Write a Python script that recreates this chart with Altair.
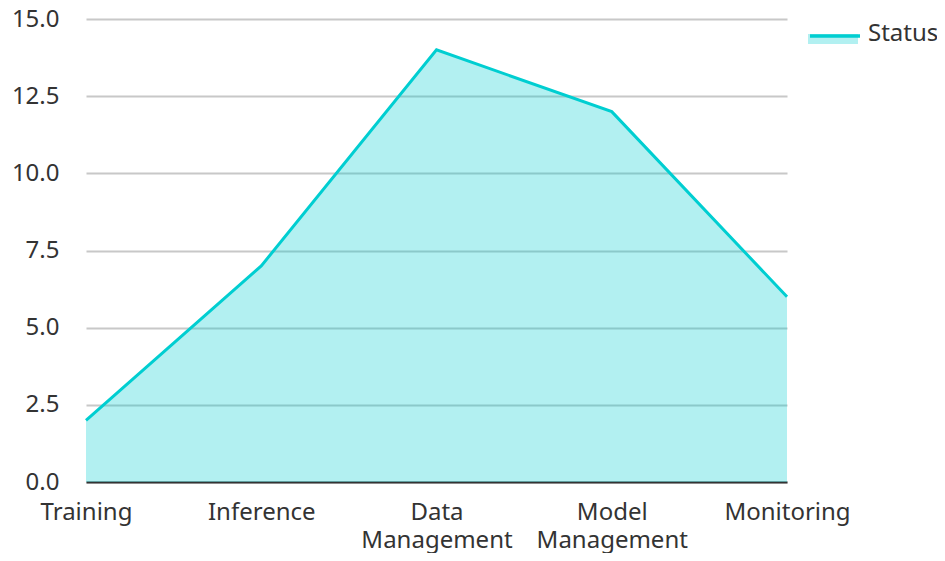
import altair as alt
import pandas as pd

categories = ["Training", "Inference", "Data Management", "Model Management", "Monitoring"]
values = [2, 7, 14, 12, 6]
series = ["Status"] * len(categories)

df = pd.DataFrame({"stage": categories, "value": values, "series": series})

TEAL = "#00CED1"
FONT = "Noto Sans"

x_enc = alt.X(
    "stage:N",
    sort=categories,
    scale=alt.Scale(type="point", padding=0),
    axis=alt.Axis(
        title=None,
        labelAngle=0,
        labelExpr="split(datum.label, ' ')",
        labelLineHeight=28,
        labelPadding=18,
        ticks=False,
        tickSize=0,
        grid=False,
        domainColor="#333333",
        domainWidth=2,
        labelFontSize=24,
        labelFont=FONT,
        labelColor="#333333",
    ),
)
y_enc = alt.Y(
    "value:Q",
    scale=alt.Scale(domain=[0, 15], nice=False),
    axis=alt.Axis(
        title=None,
        values=[0, 2.5, 5, 7.5, 10, 12.5, 15],
        format=".1f",
        ticks=False,
        tickSize=0,
        domain=False,
        labelPadding=27,
        gridColor="#c8c8c8",
        gridWidth=2,
        labelFontSize=24,
        labelFont=FONT,
        labelColor="#333333",
    ),
)

area = alt.Chart(df).mark_area(opacity=0.3).encode(
    x=x_enc,
    y=y_enc,
    fill=alt.Fill(
        "series:N",
        scale=alt.Scale(range=[TEAL]),
        legend=alt.Legend(
            title=None,
            orient="none",
            legendX=722,
            legendY=-12,
            padding=0,
            symbolType="M-1,0.08H1V0.48H-1Z",
            symbolSize=2500,
            symbolOpacity=0.3,
            symbolStrokeWidth=0,
            labelExpr="''",
            labelFontSize=24,
            labelFont=FONT,
        ),
    ),
)

line = alt.Chart(df).mark_line(strokeWidth=3).encode(
    x=x_enc,
    y=y_enc,
    stroke=alt.Stroke(
        "series:N",
        scale=alt.Scale(range=[TEAL]),
        legend=alt.Legend(
            title=None,
            orient="none",
            legendX=722,
            legendY=-12,
            padding=0,
            symbolType="M-1,0.08H1",
            symbolSize=2500,
            symbolStrokeWidth=3.5,
            symbolFillColor="transparent",
            labelOffset=6,
            labelFontSize=24,
            labelFont=FONT,
            labelColor="#333333",
        ),
    ),
)

chart = (
    alt.layer(area, line)
    .properties(
        width=701,
        height=463,
        autosize=alt.AutoSizeParams(type="none"),
        padding={"left": 78, "top": 11, "right": 150, "bottom": 71},
    )
    .configure(font=FONT)
    .configure_view(stroke=None, strokeWidth=0)
)

chart.save("out.html", embed_options={"renderer": "svg", "actions": False})
